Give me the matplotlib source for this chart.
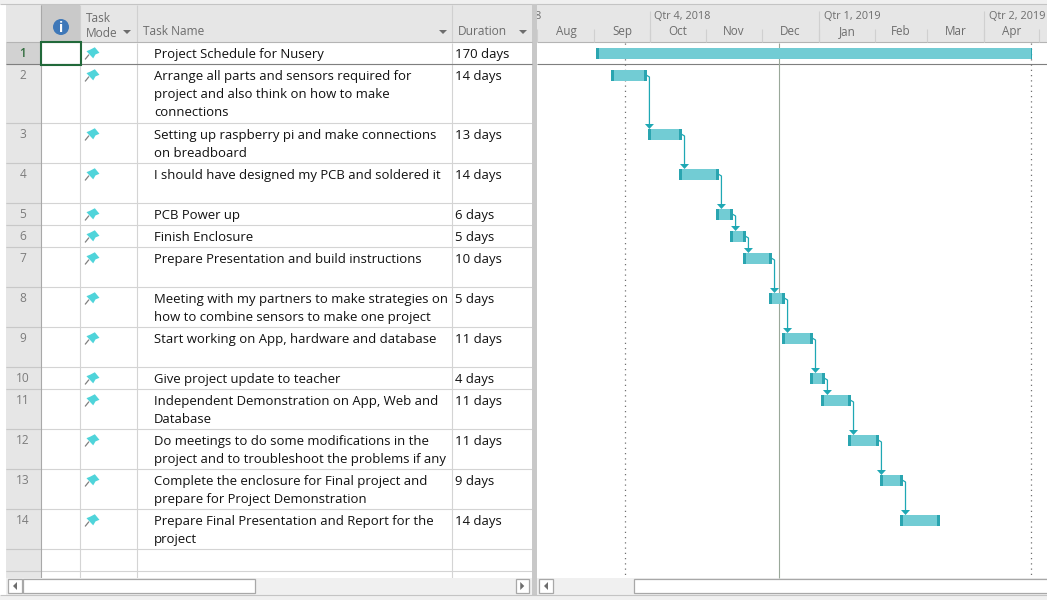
import matplotlib.pyplot as plt
from matplotlib.patches import Rectangle, Circle
from matplotlib.path import Path

plt.rcParams['font.family'] = ['Open Sans', 'DejaVu Sans']

# Table content
task_names = [
    ['Project Schedule for Nusery'],
    ['Arrange all parts and sensors required for', 'project and also think on how to make', 'connections'],
    ['Setting up raspberry pi and make connections', 'on breadboard'],
    ['I should have designed my PCB and soldered it'],
    ['PCB Power up'],
    ['Finish Enclosure'],
    ['Prepare Presentation and build instructions'],
    ['Meeting with my partners to make strategies on', 'how to combine sensors to make one project'],
    ['Start working on App, hardware and database'],
    ['Give project update to teacher'],
    ['Independent Demonstration on App, Web and', 'Database'],
    ['Do meetings to do some modifications in the', 'project and to troubleshoot the problems if any'],
    ['Complete the enclosure for Final project and', 'prepare for Project Demonstration'],
    ['Prepare Final Presentation and Report for the', 'project'],
]
durations = ['170 days', '14 days', '13 days', '14 days', '6 days', '5 days', '10 days',
             '5 days', '11 days', '4 days', '11 days', '11 days', '9 days', '14 days']
row_heights = [22, 59, 40, 40, 22, 22, 40, 40, 40, 22, 40, 40, 40, 40, 22, 22]

# Gantt bars, days counted from 1 Oct 2018
bar_start = [-29.1, -21.0, -0.8, 16.1, 36.2, 43.8, 50.9, 65.1, 72.2, 87.4, 93.4, 108.1, 125.5, 136.4]
bar_end = [208.2, -1.4, 17.7, 37.8, 45.5, 52.5, 66.7, 73.8, 89.0, 95.5, 109.7, 124.9, 138.0, 158.1]

# Timescale
months = ['Aug', 'Sep', 'Oct', 'Nov', 'Dec', 'Jan', 'Feb', 'Mar', 'Apr']
month_edges = [-61, -30, 0, 31, 61, 92, 123, 151, 182, 212]
quarters = ['Qtr 3, 2018', 'Qtr 4, 2018', 'Qtr 1, 2019', 'Qtr 2, 2019']
quarter_starts = [-92, 0, 92, 182]
dotted_days = [-13.3, 207.8]
status_day = 70.6

BAR = '#72ccd4'
BAR_END = '#2aa5b0'
LINK = '#1fa8b4'
HEAD = '#e6e6e6'
HEAD_TXT = '#6d6d6d'
GRID = '#d4d4d4'
EDGE = '#b4b4b4'
TXT_SIZE = 9.42

fig = plt.figure(figsize=(10.47, 6), dpi=100, facecolor='white')

# whole figure in pixels for the table part
ax = fig.add_axes([0, 0, 1, 1])
ax.set_xlim(0, 1047)
ax.set_ylim(600, 0)
ax.axis('off')


def box(a, x0, y0, x1, y1, color, z=1):
    a.add_patch(Rectangle((x0, y0), x1 - x0, y1 - y0, facecolor=color, edgecolor='none', zorder=z))


def hline(a, y, x0, x1, color=GRID, lw=0.8, z=2):
    a.plot([x0, x1], [y, y], color=color, lw=lw, zorder=z, solid_capstyle='butt')


def vline(a, x, y0, y1, color=GRID, lw=0.8, z=2, **kw):
    a.plot([x, x], [y0, y1], color=color, lw=lw, zorder=z, solid_capstyle='butt', **kw)


def dropdown(x, y):
    ax.fill([x - 4, x + 4, x], [y - 2, y - 2, y + 2], color='#6d6d6d', lw=0, zorder=4)


# header band and left gutter
box(ax, 0, 0, 1047, 4, '#f0f0f0')
box(ax, 6, 5, 532, 42, HEAD)
box(ax, 537, 5, 1047, 42, HEAD)
box(ax, 6, 42, 41, 578, HEAD)
box(ax, 41, 5, 80, 42, '#c9c9c9', z=2)
box(ax, 6, 43, 41, 65, '#d2d2d2', z=2)
hline(ax, 4, 0, 1047, '#c4c4c4', 0.8)
box(ax, 532, 4, 537, 596, '#c8c8c8', z=3)
hline(ax, 42, 6, 532, EDGE, 0.8, 4)
hline(ax, 42, 537, 1047, EDGE, 0.8, 4)

# rows
tops = [43]
for h in row_heights:
    tops.append(tops[-1] + h)

for i, top in enumerate(tops[1:]):
    hline(ax, top - 1, 6, 532)
    hline(ax, top - 1, 6, 41, '#c8c8c8')
hline(ax, 64, 6, 532, '#7f7f7f', 0.8, 4)
hline(ax, 64, 537, 1047, '#7f7f7f', 0.8, 4)

vline(ax, 41, 5, 578, '#a8a8a8', 0.8)
for x in [80, 137, 452]:
    vline(ax, x, 43, 578)
for x in [80, 137, 452]:
    vline(ax, x, 5, 42, '#d0d0d0')

# header labels
hdr = dict(color=HEAD_TXT, fontsize=8.6, va='baseline')
ax.text(86, 22, 'Task', **hdr)
ax.text(86, 37, 'Mode', **hdr)
ax.text(143, 35, 'Task Name', **hdr)
ax.text(458, 35, 'Duration', **hdr)
dropdown(127, 32)
dropdown(443, 32)
dropdown(523, 32)

# info icon
ax.add_patch(Circle((61, 27), 8, facecolor='#3f78b8', edgecolor='none', zorder=4))
ax.text(61, 27.5, 'i', color='white', fontsize=10, fontweight='bold', ha='center', va='center', zorder=5)

# pin icon (marker space has y pointing up)
pin_head = Path([(1.0, 2.7), (3.0, 0.3), (1.3, -0.4), (0.3, -2.1), (-2.6, 1.0), (-0.9, 1.7), (1.0, 2.7)], closed=True)
pin_needle = Path([(-3.0, -3.0), (-1.3, -0.9)])

for i, top in enumerate(tops[:14]):
    n = str(i + 1)
    if i == 0:
        ax.text(23, top + 14, n, color='#2f6b3c', fontsize=8.6, ha='center', va='baseline', fontweight='semibold', zorder=5)
    else:
        ax.text(23, top + 14, n, color='#7c7c7c', fontsize=8.6, ha='center', va='baseline', zorder=5)
    for k, line in enumerate(task_names[i]):
        ax.text(154, top + 15 + k * 18, line, color='#111111', fontsize=TXT_SIZE, va='baseline', zorder=5)
    ax.text(455, top + 15, durations[i], color='#111111', fontsize=TXT_SIZE, va='baseline', zorder=5)
    ax.scatter([92], [top + 9.5], marker=pin_head, s=100, color='#4fd4da', linewidths=0, zorder=5)
    ax.scatter([92], [top + 9.5], marker=pin_needle, s=100, facecolor='none', edgecolor='#808080', linewidths=0.9, zorder=5)

# selected cell
ax.add_patch(Rectangle((41, 42), 40, 23, facecolor='none', edgecolor='#21693a', lw=1.5, zorder=6))

# scroll bars
box(ax, 6, 578, 532, 595, '#f0f0f0', z=2)
box(ax, 537, 578, 1047, 595, '#f0f0f0', z=2)
box(ax, 0, 596, 1047, 600, '#f0f0f0', z=2)
hline(ax, 595, 0, 1047, '#c4c4c4', 0.8, 3)


def scroll_btn(x0, x1, d):
    ax.add_patch(Rectangle((x0, 579), x1 - x0, 14, facecolor='white', edgecolor='#a8a8a8', lw=0.9, zorder=4))
    c = (x0 + x1) / 2
    ax.fill([c + d * 2, c - d * 2, c + d * 2], [582, 586, 590], color='#6d6d6d', lw=0, zorder=5)


scroll_btn(8, 22, 1)
scroll_btn(515.5, 529, -1)
scroll_btn(539, 553, 1)
ax.add_patch(Rectangle((23, 579), 232, 14, facecolor='white', edgecolor='#a8a8a8', lw=0.9, zorder=4))
ax.add_patch(Rectangle((634, 579), 420, 14, facecolor='white', edgecolor='#a8a8a8', lw=0.9, zorder=4))

# Gantt panel: x is days from 1 Oct 2018, y stays in pixels
px_per_day = 1.837
gx = fig.add_axes([537 / 1047, 0, 510 / 1047, 1])
gx.set_xlim((537 - 649.5) / px_per_day, (1047 - 649.5) / px_per_day)
gx.set_ylim(600, 0)
gx.axis('off')
gx.patch.set_alpha(0)

for j, name in enumerate(months):
    mid = (month_edges[j] + month_edges[j + 1]) / 2
    gx.text(mid, 35, name, color=HEAD_TXT, fontsize=8.4, ha='center', va='baseline', clip_on=True)
for e in month_edges:
    vline(gx, e, 29, 42, '#d0d0d0')
for q, s in zip(quarters, quarter_starts):
    gx.text(s + 5 / px_per_day, 19, q, color=HEAD_TXT, fontsize=7.8, va='baseline', clip_on=True)
    vline(gx, s, 11, 42, '#d0d0d0')

# today and project limits
for d in dotted_days:
    gx.plot([d, d], [43, 578], color='#707070', lw=0.9, dashes=(1, 3.2), zorder=2)
vline(gx, status_day, 43, 578, '#9aa89a', 0.8, 2)

# bars
cap = 3 / px_per_day
for i in range(14):
    s, e = bar_start[i], bar_end[i]
    top = tops[i]
    y0 = top + 5
    bh = 11
    gx.barh(y0 + bh / 2, e - s, left=s, height=bh, color=BAR, linewidth=0, zorder=3)
    gx.barh(y0 + bh / 2, cap, left=s, height=bh, color=BAR_END, linewidth=0, zorder=4)
    if i:
        gx.barh(y0 + bh / 2, cap, left=e - cap, height=bh, color=BAR_END, linewidth=0, zorder=4)
    else:
        gx.barh(y0 + bh / 2, 1 / px_per_day, left=e - 1 / px_per_day, height=bh, color=BAR_END, linewidth=0, zorder=4)

# finish-to-start links
for i in range(1, 13):
    e = bar_end[i]
    x = e + 2.5 / px_per_day
    y_from = tops[i] + 5 + 5.5
    y_to = tops[i + 1] + 5
    gx.plot([e, x, x], [y_from, y_from + 1.5, y_to - 3], color=LINK, lw=0.9, zorder=5, solid_joinstyle='round')
    gx.fill([x - 4.5 / px_per_day, x + 4.5 / px_per_day, x], [y_to - 5, y_to - 5, y_to], color=LINK, lw=0, zorder=5)

fig.savefig('out.png', dpi=100, facecolor='white')
